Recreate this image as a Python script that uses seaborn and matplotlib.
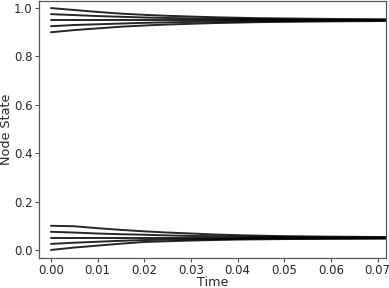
import matplotlib
matplotlib.use("Agg")
import matplotlib.pyplot as plt
import seaborn as sns
import pandas as pd

# time samples
time = [0.0, 0.005, 0.01, 0.015, 0.02, 0.025, 0.03, 0.035, 0.04, 0.045, 0.05, 0.06, 0.075]

# upper cluster of nodes (converging to ~0.95)
node_1 = [1.000, 0.992, 0.984, 0.977, 0.972, 0.968, 0.965, 0.962, 0.960, 0.958, 0.957, 0.955, 0.953]
node_2 = [0.975, 0.971, 0.967, 0.964, 0.961, 0.959, 0.957, 0.956, 0.955, 0.954, 0.953, 0.952, 0.951]
node_3 = [0.950, 0.950, 0.950, 0.950, 0.950, 0.950, 0.950, 0.950, 0.950, 0.950, 0.950, 0.950, 0.950]
node_4 = [0.925, 0.930, 0.933, 0.936, 0.939, 0.941, 0.943, 0.944, 0.945, 0.946, 0.947, 0.948, 0.949]
node_5 = [0.900, 0.909, 0.916, 0.923, 0.928, 0.932, 0.935, 0.938, 0.940, 0.942, 0.943, 0.945, 0.947]

# lower cluster of nodes (converging to ~0.05)
node_6 = [0.100, 0.098, 0.090, 0.083, 0.077, 0.072, 0.068, 0.064, 0.061, 0.059, 0.057, 0.055, 0.053]
node_7 = [0.075, 0.072, 0.068, 0.065, 0.063, 0.060, 0.058, 0.057, 0.055, 0.054, 0.053, 0.052, 0.051]
node_8 = [0.050, 0.050, 0.050, 0.050, 0.050, 0.050, 0.050, 0.050, 0.050, 0.050, 0.050, 0.050, 0.050]
node_9 = [0.025, 0.030, 0.034, 0.038, 0.041, 0.043, 0.044, 0.045, 0.046, 0.047, 0.047, 0.048, 0.049]
node_10 = [0.000, 0.010, 0.018, 0.026, 0.033, 0.036, 0.039, 0.041, 0.043, 0.044, 0.045, 0.046, 0.047]

nodes = [node_1, node_2, node_3, node_4, node_5, node_6, node_7, node_8, node_9, node_10]

rows = []
for i, vals in enumerate(nodes):
    for t, v in zip(time, vals):
        rows.append({"Time": t, "Node State": v, "node": i})
df = pd.DataFrame(rows)

sns.set_style("ticks")
plt.rcParams['font.family'] = ['DejaVu Sans']

fig = plt.figure(figsize=(3.89, 2.88), dpi=100)
ax = fig.add_axes([39.3 / 389, 1 - 257.7 / 288, (386 - 39.3) / 389, 257.7 / 288 - 0.002])

sns.lineplot(data=df, x="Time", y="Node State", units="node", estimator=None,
             color="black", linewidth=1.4, alpha=0.85, ax=ax)

ax.set_xlim(-0.0025, 0.0718)
ax.set_ylim(-0.032, 1.031)
ax.set_xticks([0.0, 0.01, 0.02, 0.03, 0.04, 0.05, 0.06, 0.07])
ax.set_yticks([0.0, 0.2, 0.4, 0.6, 0.8, 1.0])
ax.set_xticklabels(["0.00", "0.01", "0.02", "0.03", "0.04", "0.05", "0.06", "0.07"])
ax.set_yticklabels(["0.0", "0.2", "0.4", "0.6", "0.8", "1.0"])
ax.tick_params(labelsize=8.5, length=2.9, width=0.8, color="0.3", labelcolor="0.15")
ax.tick_params(axis="x", pad=1.5)
ax.tick_params(axis="y", pad=2.0)
for s in ax.spines.values():
    s.set_color("0.35")
    s.set_linewidth(0.9)
ax.set_xlabel("Time", fontsize=9.2, labelpad=-0.5, color="0.15")
ax.set_ylabel("Node State", fontsize=9.2, labelpad=0.5, color="0.15")

fig.savefig("out.png", dpi=100)
